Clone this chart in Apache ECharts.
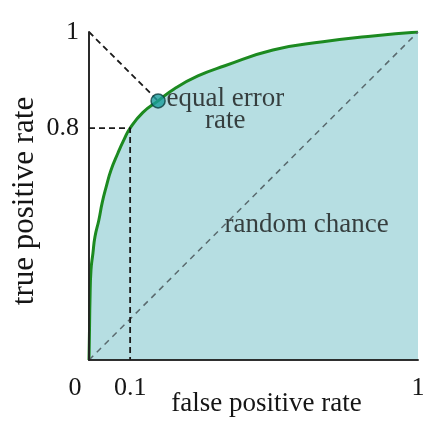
<!DOCTYPE html>
<html>
<head>
<meta charset="utf-8">
<script src="https://cdn.jsdelivr.net/npm/echarts@6/dist/echarts.min.js"></script>
<style>html,body{margin:0;padding:0;background:#fff}#c{width:446px;height:426px}</style>
</head>
<body>
<div id="c"></div>
<script>
// ROC curve (schematic axes, plot fractions)
const rocX = [0, 0.0015, 0.003, 0.006, 0.012, 0.018, 0.030, 0.040, 0.052, 0.067, 0.088, 0.106, 0.125, 0.164, 0.210, 0.261, 0.331, 0.413, 0.559, 0.711, 0.863, 1];
const rocY = [0, 0.091, 0.183, 0.274, 0.326, 0.375, 0.427, 0.479, 0.527, 0.579, 0.631, 0.671, 0.707, 0.755, 0.790, 0.828, 0.866, 0.897, 0.945, 0.970, 0.988, 1];
// equal error rate point
const eerPoint = [0.210, 0.790];
const eerFrom = [0, 1];
// guide at the "0.1 / 0.8" operating point
const guideX = [0, 0.125, 0.125];
const guideY = [0.707, 0.707, 0];
// random chance diagonal
const diagX = [0, 1];
const diagY = [0, 1];
// tick positions and labels
const xTickPos = [0, 0.125, 1];
const xTickLabels = ['0', '0.1', '1'];
const yTickPos = [0.707, 1];
const yTickLabels = ['0.8', '1'];
// annotations
const eerLabel = 'equal error\nrate';
const chanceLabel = 'random chance';
const chancePos = [0.412, 0.412];
const xTitle = 'false positive rate';
const yTitle = 'true positive rate';

const zip = (a, b) => a.map((v, i) => [v, b[i]]);
const FONT = 'Liberation Serif';
const TXT = '#151515';

const chart = echarts.init(document.getElementById('c'), null, {renderer: 'canvas'});
chart.setOption({
  animation: false,
  backgroundColor: '#fff',
  grid: {left: 89, top: 32, right: 28, bottom: 66, containLabel: false, outerBoundsMode: 'none'},
  xAxis: [{
    type: 'value', min: 0, max: 1, z: 5,
    name: xTitle, nameLocation: 'middle', nameGap: 30, nameMoveOverlap: false,
    nameTextStyle: {fontFamily: FONT, fontSize: 27, color: TXT, padding: [0, 0, 0, 26]},
    axisLine: {show: true, lineStyle: {color: '#222', width: 1.6}},
    axisTick: {show: false},
    splitLine: {show: false},
    axisLabel: {
      customValues: xTickPos, margin: 15,
      fontFamily: FONT, fontSize: 26, color: TXT,
      formatter: v => {
        const i = xTickPos.findIndex(p => Math.abs(p - v) < 1e-6);
        const t = i >= 0 ? xTickLabels[i] : '';
        return i === 0 ? '{z|' + t + '}' : t;
      },
      rich: {z: {fontFamily: FONT, fontSize: 26, color: TXT, padding: [0, 28, 0, 0]}}
    }
  }, {
    type: 'value', min: 0, max: 1, position: 'top', z: 5,
    axisLine: {show: true, lineStyle: {color: '#222', width: 1.6}},
    axisTick: {show: false}, axisLabel: {show: false}, splitLine: {show: false}
  }],
  yAxis: [{
    type: 'value', min: 0, max: 1, z: 5,
    name: yTitle, nameLocation: 'middle', nameGap: 49, nameRotate: 90, nameMoveOverlap: false,
    nameTextStyle: {fontFamily: FONT, fontSize: 31, color: TXT, padding: [0, 10, 0, 0]},
    axisLine: {show: true, lineStyle: {color: '#222', width: 1.6}},
    axisTick: {show: false},
    splitLine: {show: false},
    axisLabel: {
      customValues: yTickPos, margin: 10,
      fontFamily: FONT, fontSize: 26, color: TXT, padding: [6, 0, 0, 0],
      formatter: v => {
        const i = yTickPos.findIndex(p => Math.abs(p - v) < 1e-6);
        return i >= 0 ? yTickLabels[i] : '';
      }
    }
  }, {
    type: 'value', min: 0, max: 1, position: 'right', z: 5,
    axisLine: {show: true, lineStyle: {color: '#222', width: 1.6}},
    axisTick: {show: false}, axisLabel: {show: false}, splitLine: {show: false}
  }],
  series: [
    {
      type: 'line', data: zip(rocX, rocY), smooth: 0.5, showSymbol: false, z: 2,
      lineStyle: {color: '#1c8a20', width: 3},
      areaStyle: {color: '#b6dee2', opacity: 1}
    },
    {
      type: 'line', data: zip(diagX, diagY), showSymbol: false, z: 3,
      lineStyle: {color: '#5a6a6e', width: 1.5, type: [6, 5]}
    },
    {
      type: 'line', data: [eerFrom, eerPoint], showSymbol: false, z: 3,
      lineStyle: {color: '#1a1a1a', width: 1.8, type: [6, 4]}
    },
    {
      type: 'line', data: zip(guideX, guideY), showSymbol: false, z: 3,
      lineStyle: {color: '#1a1a1a', width: 1.8, type: [6, 4]}
    },
    {
      type: 'scatter', data: [eerPoint], symbol: 'circle', symbolSize: 14, z: 6,
      itemStyle: {color: '#1a9c9c', borderColor: '#0d3f40', borderWidth: 1.5},
      label: {
        show: true, formatter: eerLabel, position: [75, -5],
        align: 'center', verticalAlign: 'top', lineHeight: 22,
        fontFamily: FONT, fontSize: 27, color: TXT
      }
    },
    {
      type: 'scatter', data: [chancePos], symbolSize: 0, z: 6,
      label: {
        show: true, formatter: chanceLabel, position: 'right', distance: 0,
        fontFamily: FONT, fontSize: 27, color: TXT
      }
    }
  ]
});
</script>
</body>
</html>
